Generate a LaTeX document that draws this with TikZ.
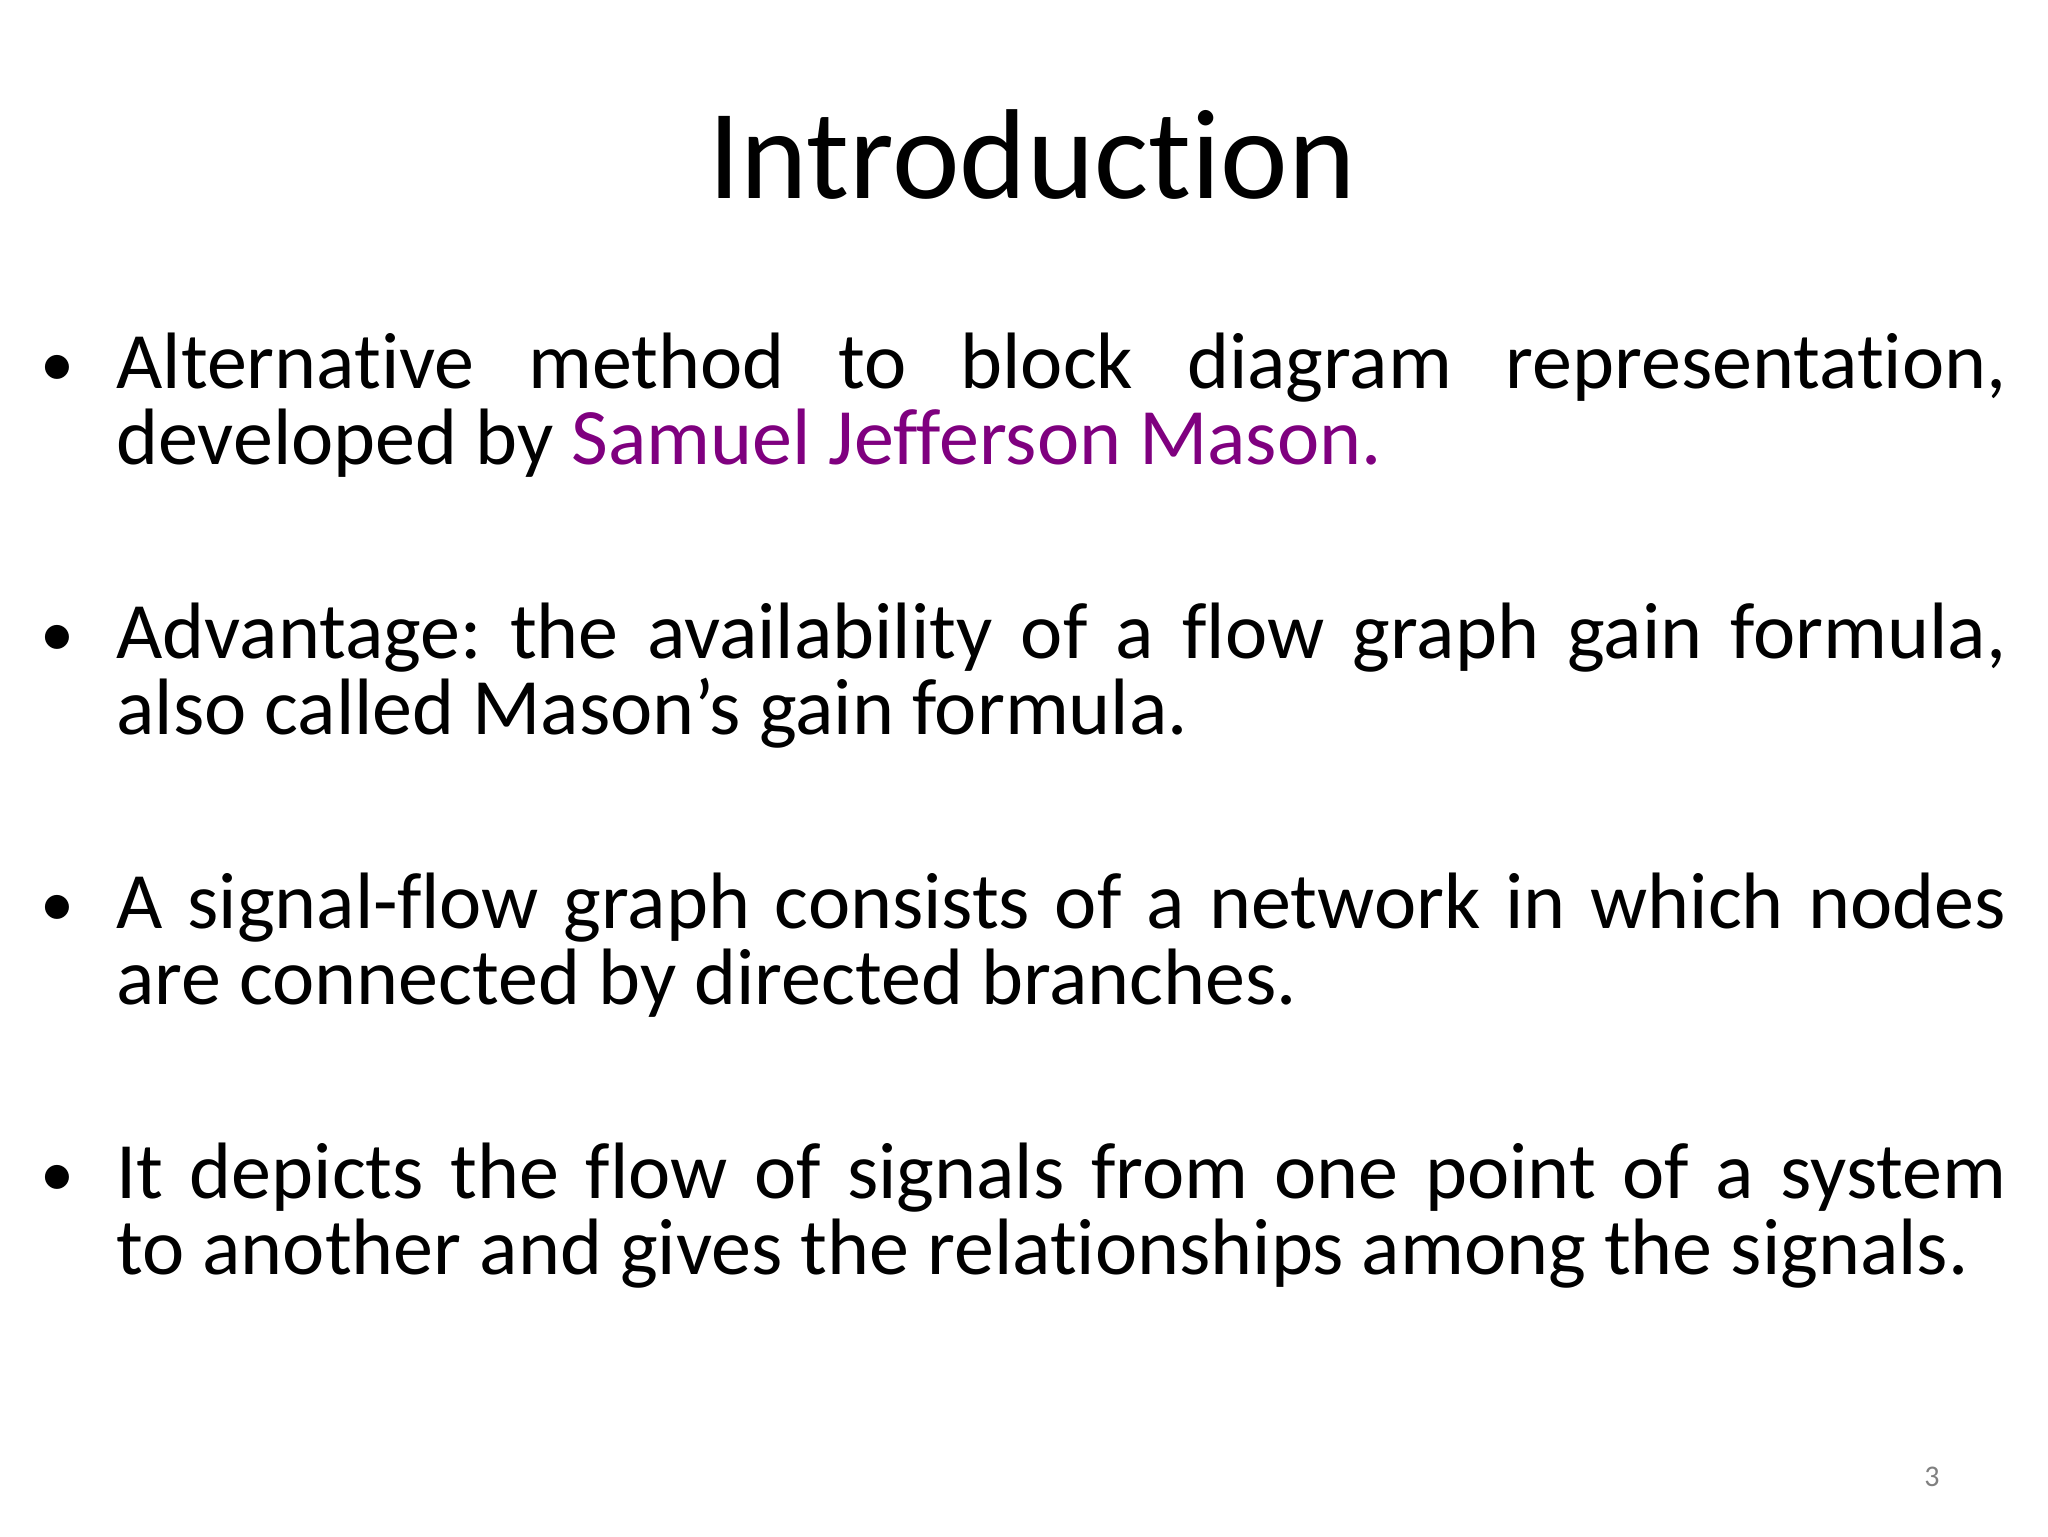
\documentclass[tikz,border=0pt]{standalone}
\usepackage{fontspec}
\setmainfont[Ligatures={NoCommon}]{Carlito}
\definecolor{mpurple}{HTML}{7F007F}
\begin{document}
\frenchspacing
\begin{tikzpicture}[x=1pt,y=1pt,
  ln/.style={anchor=base west,inner sep=0pt,font=\fontsize{40}{40}\selectfont\frenchspacing},
  bul/.style={anchor=base west,inner sep=0pt,font=\fontsize{34}{34}\selectfont}]
\useasboundingbox (0,0) rectangle (1024,-768);
\node[anchor=base,inner sep=0pt,font=\fontsize{64}{64}\selectfont] (title) at (516,-99) {Introduction};
\node[bul] (b1) at (20,-193) {•};
\node[ln] (l1a) at (58,-194) {\makebox[945pt][s]{Alternative method to block diagram representation,}};
\node[ln] (l1b) at (58,-232) {developed by \textcolor{mpurple}{Samuel Jefferson Mason.}};
\node[bul] (b2) at (20,-328) {•};
\node[ln] (l2a) at (58,-329) {\makebox[945pt][s]{Advantage: the availability of a flow graph gain formula,}};
\node[ln] (l2b) at (58,-367) {also called Mason’s gain formula.};
\node[bul] (b3) at (20,-463) {•};
\node[ln] (l3a) at (58,-464) {\makebox[945pt][s]{A signal-flow graph consists of a network in which nodes}};
\node[ln] (l3b) at (58,-502) {are connected by directed branches.};
\node[bul] (b4) at (20,-598) {•};
\node[ln] (l4a) at (58,-599) {\makebox[945pt][s]{It depicts the flow of signals from one point of a system}};
\node[ln] (l4b) at (58,-637) {to another and gives the relationships among the signals.};
\node[anchor=base,inner sep=0pt,font=\fontsize{15}{15}\selectfont,text=gray] (pg) at (966,-743) {3};
\end{tikzpicture}
\end{document}
